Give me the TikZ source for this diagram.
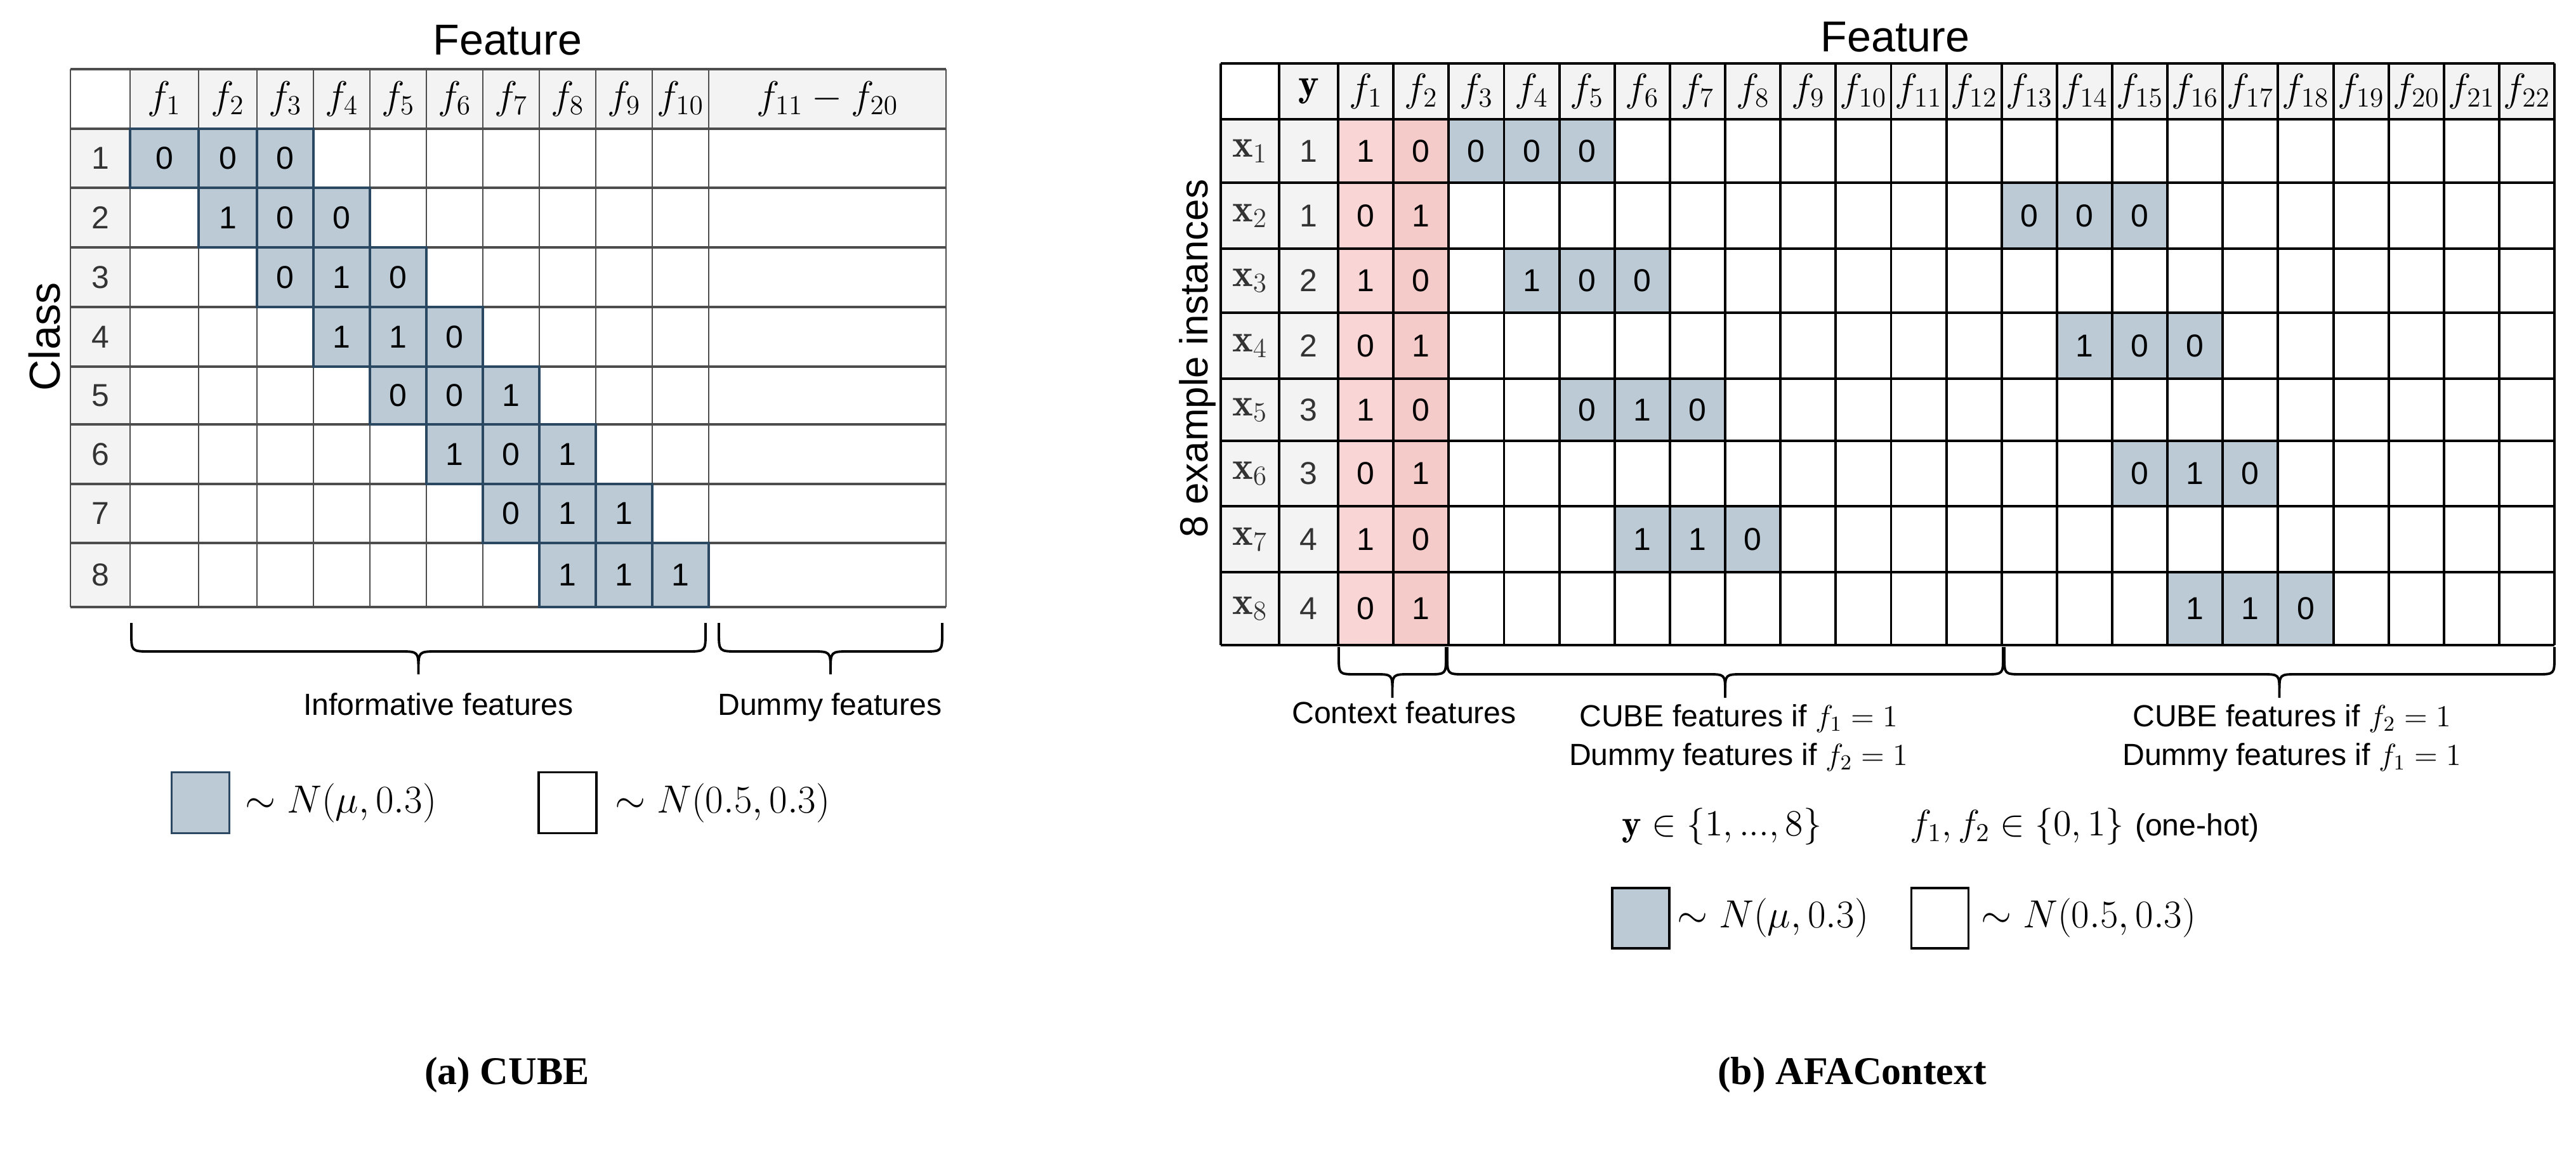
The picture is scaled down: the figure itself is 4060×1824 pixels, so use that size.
\documentclass[tikz,border=0pt]{standalone}
\usepackage{fix-cm}
\usepackage{amsmath}
\usepackage{fontspec}
\newfontfamily\arial{Liberation Sans}
\newfontfamily\capserif{Liberation Serif}
\definecolor{hdr}{HTML}{F3F3F3}
\definecolor{cblue}{HTML}{BCCAD6}
\definecolor{cblueb}{HTML}{2A4862}
\definecolor{gline}{HTML}{4D4D4D}
\definecolor{pinkA}{HTML}{F9D6D5}
\definecolor{pinkB}{HTML}{F5CBCA}
\definecolor{lbl}{HTML}{333333}
\tikzset{
  val/.style={font=\arial\fontsize{14.2}{16}\selectfont, text=black, inner sep=0pt},
  lab/.style={font=\arial\fontsize{14.2}{16}\selectfont, text=lbl, inner sep=0pt},
  hmath/.style={font=\fontsize{17.6}{20}\selectfont, inner sep=0pt},
  title/.style={font=\arial\fontsize{19.4}{22}\selectfont, inner sep=0pt},
  sidetitle/.style={font=\arial\fontsize{17.6}{20}\selectfont, inner sep=0pt},
  lbltext/.style={font=\arial\fontsize{13.7}{16}\selectfont, inner sep=0pt},
  legmath/.style={font=\fontsize{17.6}{20}\selectfont, inner sep=0pt},
  midmath/.style={font=\fontsize{16.5}{19}\selectfont, inner sep=0pt},
  capt/.style={font=\capserif\bfseries\fontsize{17.6}{20}\selectfont, inner sep=0pt},
  lgridv/.style={draw=gline, line width=0.8pt},
  lgridh/.style={draw=gline, line width=1.2pt},
  rgridv/.style={draw=black, line width=1.1pt},
  rgridh/.style={draw=black, line width=1.4pt},
  bracestyle/.style={draw=black, line width=1.1pt, line join=round},
  legbox/.style={minimum width=0.91cm, minimum height=0.96cm, inner sep=0pt, line width=1.1pt},
}
\def\colL{{111,205,313,405,494,583,672,761,850,939,1028,1117,1491}}
\def\rowL{{109,203,296,390,484,578,669,763,856,957}}
\def\rowR{{100,188,288,392,493,597,695,798,902,1017}}
\newcommand\mybrace[6]{%
  \pgfmathsetmacro\bxm{(#1+#2)/2}%
  \draw[bracestyle] (#1,#3) -- (#1,#4-#6) .. controls (#1,#4) .. (#1+#6,#4) -- (\bxm-#6,#4) .. controls (\bxm,#4) .. (\bxm,#4+#6) -- (\bxm,#5)
    (#2,#3) -- (#2,#4-#6) .. controls (#2,#4) .. (#2-#6,#4) -- (\bxm+#6,#4) .. controls (\bxm,#4) .. (\bxm,#4+#6);
}
\begin{document}
\begin{tikzpicture}[x=0.01cm,y=-0.01cm]
\useasboundingbox (0,0) rectangle (4060,1824);

% ================= LEFT: CUBE =================
\fill[hdr] (205,109) rectangle (1491,203);
\fill[hdr] (111,203) rectangle (205,957);
\foreach \r/\va/\vb/\vc in {1/0/0/0,2/1/0/0,3/0/1/0,4/1/1/0,5/0/0/1,6/1/0/1,7/0/1/1,8/1/1/1}{
  \foreach \j/\v in {0/\va,1/\vb,2/\vc}{
    \pgfmathtruncatemacro\k{\r+\j}
    \pgfmathsetmacro\xa{\colL[\k]}
    \pgfmathsetmacro\xb{\colL[\k+1]}
    \pgfmathsetmacro\ya{\rowL[\r]}
    \pgfmathsetmacro\yb{\rowL[\r+1]}
    \fill[cblue] (\xa,\ya) rectangle (\xb,\yb);
  }
}
\foreach \i in {0,...,12}{
  \pgfmathsetmacro\xx{\colL[\i]}
  \draw[lgridv] (\xx,109) -- (\xx,957);
}
\foreach \i in {0,...,9}{
  \pgfmathsetmacro\yy{\rowL[\i]}
  \draw[lgridh] (111,\yy) -- (1491,\yy);
}
\foreach \r/\va/\vb/\vc in {1/0/0/0,2/1/0/0,3/0/1/0,4/1/1/0,5/0/0/1,6/1/0/1,7/0/1/1,8/1/1/1}{
  \foreach \j/\v in {0/\va,1/\vb,2/\vc}{
    \pgfmathtruncatemacro\k{\r+\j}
    \pgfmathsetmacro\xa{\colL[\k]}
    \pgfmathsetmacro\xb{\colL[\k+1]}
    \pgfmathsetmacro\ya{\rowL[\r]}
    \pgfmathsetmacro\yb{\rowL[\r+1]}
    \draw[cblueb, line width=0.9pt] (\xa,\ya) rectangle (\xb,\yb);
    \node[val] (vL\r-\k) at ({(\xa+\xb)/2},{(\ya+\yb)/2}) {\v};
  }
}
% header labels
\foreach \k in {1,...,10}{
  \pgfmathsetmacro\xa{\colL[\k]}
  \pgfmathsetmacro\xb{\colL[\k+1]}
  \node[hmath] (hL\k) at ({(\xa+\xb)/2},156) {$f_{\k}$};
}
\node[hmath] (hL11) at ({(1117+1491)/2},156) {$f_{11}-f_{20}$};
% row labels
\foreach \r in {1,...,8}{
  \pgfmathsetmacro\ya{\rowL[\r]}
  \pgfmathsetmacro\yb{\rowL[\r+1]}
  \node[lab] (rL\r) at (158,{(\ya+\yb)/2}) {\r};
}
\node[title, anchor=base] (featL) at (800,87) {Feature};
\node[title, rotate=90, anchor=base] (classL) at (94,531) {Class};
% braces
\mybrace{207}{1112}{982}{1027}{1063}{30}
\mybrace{1133}{1485}{982}{1027}{1063}{30}
\node[lbltext, anchor=base] (infoL) at (691,1127) {Informative features};
\node[lbltext, anchor=base] (dumL) at (1308,1127) {Dummy features};
% legend
\node[legbox, fill=cblue, draw=cblueb] (lgL1) at (316,1265.5) {};
\node[legmath, anchor=west] (lgtL1) at (386,1266) {$\sim N(\mu,0.3)$};
\node[legbox, fill=white, draw=black] (lgL2) at (894.5,1265.5) {};
\node[legmath, anchor=west] (lgtL2) at (969,1266) {$\sim N(0.5,0.3)$};
\node[capt, anchor=base] (capA) at (799,1709) {(a) CUBE};

% ================= RIGHT: AFAContext =================
\fill[hdr] (2016,100) rectangle (4026,188);
\fill[hdr] (1924,188) rectangle (2109,1017);
\fill[pinkA] (2109,188) rectangle ({2109+87.14},1017);
\fill[pinkB] ({2109+87.14},188) rectangle ({2109+2*87.14},1017);
\foreach \r/\s/\va/\vb/\vc in {1/3/0/0/0,2/13/0/0/0,3/4/1/0/0,4/14/1/0/0,5/5/0/1/0,6/15/0/1/0,7/6/1/1/0,8/16/1/1/0}{
  \foreach \j/\v in {0/\va,1/\vb,2/\vc}{
    \pgfmathtruncatemacro\k{\s+\j}
    \pgfmathsetmacro\xa{2109+(\k-1)*87.14}
    \pgfmathsetmacro\xb{2109+\k*87.14}
    \pgfmathsetmacro\ya{\rowR[\r]}
    \pgfmathsetmacro\yb{\rowR[\r+1]}
    \fill[cblue] (\xa,\ya) rectangle (\xb,\yb);
    \node[val] (vR\r-\k) at ({(\xa+\xb)/2},{(\ya+\yb)/2}) {\v};
  }
}
\draw[rgridv] (1924,100) -- (1924,1017);
\draw[rgridv] (2016,100) -- (2016,1017);
\foreach \k in {0,...,22}{
  \draw[rgridv] ({2109+\k*87.14},100) -- ({2109+\k*87.14},1017);
}
\foreach \i in {0,...,9}{
  \pgfmathsetmacro\yy{\rowR[\i]}
  \draw[rgridh] (1924,\yy) -- (4026,\yy);
}
% header
\node[hmath] (hRy) at (2062.5,144) {$\mathbf{y}$};
\foreach \k in {1,...,22}{
  \node[hmath] (hR\k) at ({2109+(\k-0.5)*87.14},144) {$f_{\k}$};
}
% rows
\foreach \r/\y/\fa/\fb in {1/1/1/0,2/1/0/1,3/2/1/0,4/2/0/1,5/3/1/0,6/3/0/1,7/4/1/0,8/4/0/1}{
  \pgfmathsetmacro\ya{\rowR[\r]}
  \pgfmathsetmacro\yb{\rowR[\r+1]}
  \node[hmath, text=lbl] (rR\r) at (1970,{(\ya+\yb)/2}) {$\mathbf{x}_{\r}$};
  \node[lab] (yR\r) at (2062.5,{(\ya+\yb)/2}) {\y};
  \node[val] (fR\r-1) at ({2109+0.5*87.14},{(\ya+\yb)/2}) {\fa};
  \node[val] (fR\r-2) at ({2109+1.5*87.14},{(\ya+\yb)/2}) {\fb};
}
\node[title, anchor=base] (featR) at (2987,81) {Feature};
\node[sidetitle, rotate=90, anchor=base] (instR) at (1903,565) {8 example instances};
% braces
\mybrace{2110}{2279}{1020}{1063}{1100}{28}
\mybrace{2281}{3157}{1020}{1063}{1100}{28}
\mybrace{3159}{4026}{1020}{1063}{1100}{28}
\node[lbltext, anchor=base] (ctxR) at (2213,1140) {Context features};
\node[lbltext, anchor=base] (cubeR1) at (2740,1145) {CUBE features if $f_1 = 1$};
\node[lbltext, anchor=base] (dumR1) at (2740,1206) {Dummy features if $f_2 = 1$};
\node[lbltext, anchor=base] (cubeR2) at (3612,1145) {CUBE features if $f_2 = 1$};
\node[lbltext, anchor=base] (dumR2) at (3612,1206) {Dummy features if $f_1 = 1$};
% sets
\node[midmath, anchor=west] (ysetR) at (2556,1303) {$\mathbf{y}\in\{1, ..., 8\}$};
\node[midmath, anchor=west] (fsetR) at (3010,1303) {$f_1, f_2 \in \{0,1\}$ {\arial\fontsize{13.7}{16}\selectfont (one-hot)}};
% legend
\node[legbox, minimum width=0.9cm, minimum height=0.95cm, fill=cblue, draw=black] (lgR1) at (2586,1447.5) {};
\node[legmath, anchor=west] (lgtR1) at (2643,1447) {$\sim N(\mu,0.3)$};
\node[legbox, minimum width=0.9cm, minimum height=0.95cm, fill=white, draw=black] (lgR2) at (3057.5,1447.5) {};
\node[legmath, anchor=west] (lgtR2) at (3122,1447) {$\sim N(0.5,0.3)$};
\node[capt, anchor=base] (capB) at (2919,1709) {(b) AFAContext};
\end{tikzpicture}
\end{document}
